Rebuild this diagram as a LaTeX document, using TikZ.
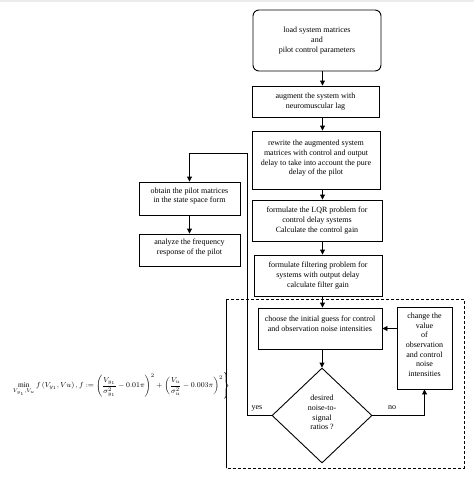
\documentclass[tikz,border=0pt]{standalone}
\usepackage{fontspec}
\setmainfont{Liberation Serif}
\usepackage{amsmath}
\usetikzlibrary{shapes.geometric,arrows.meta}
\begin{document}
\begin{tikzpicture}[x=1pt,y=-1pt,
  font=\fontsize{8}{9.7}\selectfont,
  box/.style={draw,line width=0.9pt,align=center,inner sep=1pt,anchor=center},
  arr/.style={line width=0.9pt,-{Triangle[length=5pt,width=5pt]}},
  lbl/.style={inner sep=0pt,anchor=center}]
\useasboundingbox (0,0) rectangle (474,479);
\fill[black!8] (0,0) rectangle (474,2);
% nodes
\node[box,rounded corners=6pt,minimum width=128pt,minimum height=61pt] (b1) at (317,40.5)
  {load system matrices\\and\\pilot control parameters};
\node[box,minimum width=127pt,minimum height=31pt] (b2) at (315.5,101.5)
  {augment the system with\\neuromuscular lag};
\node[box,minimum width=128pt,minimum height=58pt] (b3) at (316,160)
  {rewrite the augmented system\\matrices with control and output\\delay to take into account the pure\\delay of the pilot\\[-5pt]\mbox{}};
\node[box,minimum width=130pt,minimum height=41pt] (b4) at (317,220.5)
  {formulate the LQR problem for\\control delay systems\\Calculate the control gain};
\node[box,minimum width=128pt,minimum height=41pt] (b5) at (318,275.5)
  {formulate filtering problem for\\systems with output delay\\calculate filter gain};
\node[box,minimum width=124pt,minimum height=41pt] (b6) at (320,328.5)
  {choose the initial guess for control\\and observation noise intensities\\\mbox{}};
\node[box,diamond,minimum width=100pt,minimum height=95pt,inner sep=0pt] (d) at (322,415.5)
  {desired\\noise-to-\\signal\\ratios ?\\[-4pt]\mbox{}};
\node[box,minimum width=55pt,minimum height=82pt] (b7) at (424.5,348)
  {change the\\value\\of\\observation\\and control\\noise\\intensities\\[-3pt]\mbox{}};
\node[box,minimum width=101pt,minimum height=33pt] (b8) at (189.5,198.5)
  {obtain the pilot matrices\\in the state space form\\[-3pt]\mbox{}};
\node[box,minimum width=101pt,minimum height=32pt] (b9) at (189.5,250)
  {analyze the frequency\\response of the pilot\\[-3pt]\mbox{}};
% dashed region
\coordinate (r1) at (226,299);
\coordinate (r2) at (464,468);
\draw[line width=0.8pt,dash pattern=on 3pt off 2pt] (r1) -- (r1 -| r2) -- (r2) -- (r2 -| r1);
\draw[line width=0.5pt] (r1) -- (r2 -| r1);
% formula
\node[lbl,anchor=east] (fm) at (230,386) {\resizebox{218pt}{!}{$\left.\displaystyle\min_{V_{y_1},V_u} f\left(V_{y_1},Vu\right), f:=\left(\frac{V_{y_1}}{\sigma^2_{y_1}}-0.01\pi\right)^2+\left(\frac{V_u}{\sigma^2_u}-0.003\pi\right)^2\right\}$}};
% spine
\coordinate (sp) at (322.5,0);
\draw[arr] (b1.south -| sp) -- (b2.north -| sp);
\draw[arr] (b2.south -| sp) -- (b3.north -| sp);
\draw[arr] (b3.south -| sp) -- (b4.north -| sp);
\draw[arr] (b4.south -| sp) -- (b5.north -| sp);
\draw[arr] (b5.south -| sp) -- (b6.north -| sp);
\draw[arr] (b6.south -| d) -- (d.north);
% no branch
\draw[arr] (d.east) -| (b7.south);
\node[lbl] (no) at (392,408) {no};
\draw[arr] (b7.west |- b6.east) -- (b6.east);
% yes branch
\coordinate (y1) at (247,153);
\draw[arr] (d.west) -| (y1) -| (b8.north);
\node[lbl] (yes) at (257,408) {yes};
\draw[arr] (b8.south) -- (b9.north);
\end{tikzpicture}
\end{document}
